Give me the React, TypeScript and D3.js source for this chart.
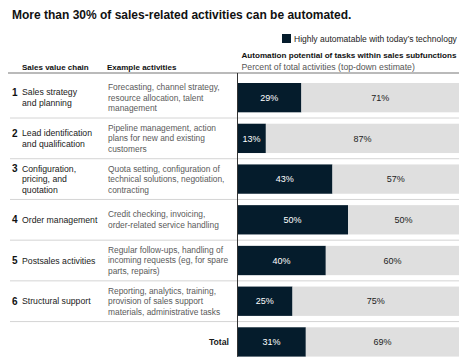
// Sales automation potential chart, drawn with D3 scales in JSX
import React from 'react';
import * as d3 from 'd3';

const rowNumbers = ['1', '2', '3', '4', '5', '6', ''];
const categories = [
  'Sales strategy and planning',
  'Lead identification and qualification',
  'Configuration, pricing, and quotation',
  'Order management',
  'Postsales activities',
  'Structural support',
  'Total',
];
const chainLines = [
  ['Sales strategy', 'and planning'],
  ['Lead identification', 'and qualification'],
  ['Configuration,', 'pricing, and', 'quotation'],
  ['Order management'],
  ['Postsales activities'],
  ['Structural support'],
  ['Total'],
];
const activityLines = [
  ['Forecasting, channel strategy,', 'resource allocation, talent', 'management'],
  ['Pipeline management, action', 'plans for new and existing', 'customers'],
  ['Quota setting, configuration of', 'technical solutions, negotiation,', 'contracting'],
  ['Credit checking, invoicing,', 'order-related service handling'],
  ['Regular follow-ups, handling of', 'incoming requests (eg, for spare', 'parts, repairs)'],
  ['Reporting, analytics, training,', 'provision of sales support', 'materials, administrative tasks'],
  [],
];
const automatable = [29, 13, 43, 50, 40, 25, 31];
const remaining = [71, 87, 57, 50, 60, 75, 69];

const W = 474;
const H = 363;
const navy = '#051c2c';
const lightGray = '#dfdfdf';
const font = '"Liberation Sans", Arial, sans-serif';

const App = () => {
  const x = d3.scaleLinear().domain([0, 100]).range([237, 459]);
  const y = d3.scaleBand<string>()
    .domain(categories)
    .range([77.3, 362.3])
    .paddingInner(0.28)
    .paddingOuter(0.14);
  const step = y.step();
  const bw = y.bandwidth();
  const center = (c: string) => (y(c) || 0) + bw / 2;
  const lineH = 10.5;

  return (
    <svg width={W} height={H} style={{ position: 'absolute', left: 0, top: 0 }} fontFamily={font}>
      <rect width={W} height={H} fill="#fff" />
      <text x={12} y={19} fontSize={12} fontWeight="bold" fill="#111">
        More than 30% of sales-related activities can be automated.
      </text>

      {/* legend */}
      <rect x={282} y={34} width={9} height={9} fill={navy} />
      <text x={294} y={42} fontSize={8.5} fill="#222">Highly automatable with today’s technology</text>

      {/* headers */}
      <text x={241.5} y={57.5} fontSize={8.1} fontWeight="bold" fill="#111">
        Automation potential of tasks within sales subfunctions
      </text>
      <text x={241.5} y={69.5} fontSize={8.7} fill="#555">Percent of total activities (top-down estimate)</text>
      <text x={22} y={69.5} fontSize={8} fontWeight="bold" fill="#111">Sales value chain</text>
      <text x={107} y={69.5} fontSize={8} fontWeight="bold" fill="#111">Example activities</text>
      <line x1={8} x2={459} y1={73} y2={73} stroke="#777" strokeWidth={1.2} />

      {/* row separators */}
      {categories.slice(0, -1).map(c => (
        <line key={'sep' + c} x1={10} x2={459}
          y1={center(c) + step / 2} y2={center(c) + step / 2}
          stroke="#d4d4d4" strokeWidth={1} />
      ))}

      {categories.map((c, i) => {
        const cy = center(c);
        const isTotal = c === 'Total';
        return (
          <g key={c}>
            {rowNumbers[i] && (
              <text x={12} y={cy - ((chainLines[i].length - 1) * lineH) / 2} dy="0.35em"
                fontSize={10} fontWeight="bold" fill="#111">{rowNumbers[i]}</text>
            )}
            {chainLines[i].map((t, j) => (
              <text key={j}
                x={isTotal ? 229 : 22}
                textAnchor={isTotal ? 'end' : 'start'}
                y={cy + (j - (chainLines[i].length - 1) / 2) * lineH} dy="0.35em"
                fontSize={8.7} fontWeight={isTotal ? 'bold' : 'normal'} fill="#1a1a1a">{t}</text>
            ))}
            {activityLines[i].map((t, j) => (
              <text key={'a' + j} x={108}
                y={cy + (j - (activityLines[i].length - 1) / 2) * lineH} dy="0.35em"
                fontSize={8.4} fill="#5a5a5a">{t}</text>
            ))}
            <rect x={x(0)} y={y(c)} width={x(automatable[i]) - x(0)} height={bw} fill={navy} />
            <rect x={x(automatable[i])} y={y(c)} width={x(100) - x(automatable[i])} height={bw} fill={lightGray} />
            <text x={(x(0) + x(automatable[i])) / 2} y={cy} dy="0.35em" textAnchor="middle"
              fontSize={9} fill="#fff">{automatable[i]}%</text>
            <text x={(x(automatable[i]) + x(100)) / 2} y={cy} dy="0.35em" textAnchor="middle"
              fontSize={9} fill="#222">{remaining[i]}%</text>
          </g>
        );
      })}

      {/* vertical baseline */}
      <line x1={x(0) + 0.5} x2={x(0) + 0.5} y1={73} y2={(y('Total') || 0) + bw}
        stroke="#333" strokeWidth={1} />
    </svg>
  );
};

export default App;
